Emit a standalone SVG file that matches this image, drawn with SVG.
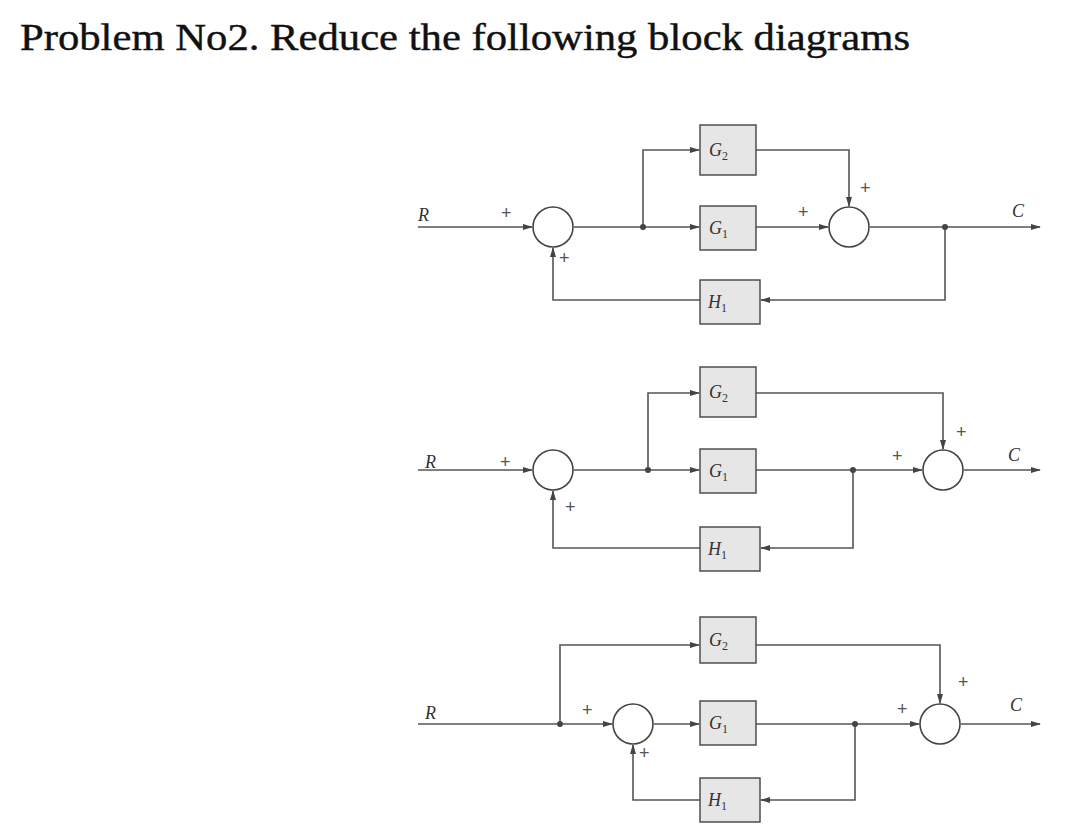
<svg xmlns="http://www.w3.org/2000/svg" width="1086" height="836" viewBox="0 0 1086 836">
<defs>
<marker id="a" markerWidth="10" markerHeight="8" refX="9" refY="4" orient="auto" markerUnits="userSpaceOnUse"><path d="M0,1 L10,4 L0,7 Z" fill="#444"/></marker>
</defs>
<style>
.w{fill:none;stroke:#555;stroke-width:1.6}
.b{fill:#e6e6e6;stroke:#444;stroke-width:1.4}
.s{fill:#fff;stroke:#444;stroke-width:1.6}
.l{font-family:"Liberation Serif",serif;font-style:italic;font-size:18px;fill:#333}
.l tspan{font-style:normal;font-size:12px}
.p{font-family:"Liberation Sans",sans-serif;font-size:18px;fill:#555}
.d{fill:#444}
</style>
<rect width="1086" height="836" fill="#fff"/>
<text x="20" y="50" font-family="Liberation Serif,serif" font-size="37" fill="#111" textLength="890" lengthAdjust="spacingAndGlyphs" stroke="#111" stroke-width="0.4">Problem No2.  Reduce the following block diagrams</text>

<g id="connectors">
<path class="w" d="M418,227 H532" marker-end="url(#a)"/>
<path class="w" d="M574,227 H699" marker-end="url(#a)"/>
<path class="w" d="M643,227 V150 H699" marker-end="url(#a)"/>
<path class="w" d="M756,150 H849 V206" marker-end="url(#a)"/>
<path class="w" d="M756,227 H828" marker-end="url(#a)"/>
<path class="w" d="M870,227 H1040" marker-end="url(#a)"/>
<path class="w" d="M945,227 V300 H761" marker-end="url(#a)"/>
<path class="w" d="M700,300 H553 V248" marker-end="url(#a)"/>
<circle class="d" cx="643" cy="227" r="3"/><circle class="d" cx="945" cy="227" r="3"/>
<path class="w" d="M418,470 H532" marker-end="url(#a)"/>
<path class="w" d="M574,470 H699" marker-end="url(#a)"/>
<path class="w" d="M648,470 V393 H699" marker-end="url(#a)"/>
<path class="w" d="M756,393 H943 V449" marker-end="url(#a)"/>
<path class="w" d="M756,470 H922" marker-end="url(#a)"/>
<path class="w" d="M964,470 H1040" marker-end="url(#a)"/>
<path class="w" d="M853,470 V548 H761" marker-end="url(#a)"/>
<path class="w" d="M700,548 H553 V491" marker-end="url(#a)"/>
<circle class="d" cx="648" cy="470" r="3"/><circle class="d" cx="853" cy="470" r="3"/>
<path class="w" d="M418,724 H612" marker-end="url(#a)"/>
<path class="w" d="M560,724 V645 H699" marker-end="url(#a)"/>
<path class="w" d="M654,724 H699" marker-end="url(#a)"/>
<path class="w" d="M756,645 H940 V703" marker-end="url(#a)"/>
<path class="w" d="M756,724 H919" marker-end="url(#a)"/>
<path class="w" d="M961,724 H1040" marker-end="url(#a)"/>
<path class="w" d="M855,724 V800 H761" marker-end="url(#a)"/>
<path class="w" d="M700,800 H633 V745" marker-end="url(#a)"/>
<circle class="d" cx="560" cy="724" r="3"/><circle class="d" cx="855" cy="724" r="3"/>
</g>

<g id="d1">
<g id="d1-s1"><circle class="s" cx="553" cy="227" r="20"/><text class="p" x="501" y="219">+</text><text class="p" x="559" y="264">+</text></g>
<g id="d1-G2"><rect class="b" x="700" y="125" width="56" height="50"/><text class="l" x="709" y="156">G<tspan dy="4">2</tspan></text></g>
<g id="d1-G1"><rect class="b" x="700" y="206" width="56" height="44"/><text class="l" x="709" y="234">G<tspan dy="4">1</tspan></text></g>
<g id="d1-H1"><rect class="b" x="700" y="280" width="60" height="44"/><text class="l" x="708" y="308">H<tspan dy="4">1</tspan></text></g>
<g id="d1-s2"><circle class="s" cx="849" cy="227" r="20"/><text class="p" x="798" y="218">+</text><text class="p" x="860" y="194">+</text></g>
<text class="l" x="418" y="221">R</text><text class="l" x="1012" y="217">C</text>
</g>

<g id="d2">
<g id="d2-s1"><circle class="s" cx="553" cy="470" r="20"/><text class="p" x="500" y="468">+</text><text class="p" x="565" y="513">+</text></g>
<g id="d2-G2"><rect class="b" x="700" y="367" width="56" height="50"/><text class="l" x="709" y="398">G<tspan dy="4">2</tspan></text></g>
<g id="d2-G1"><rect class="b" x="700" y="449" width="56" height="44"/><text class="l" x="709" y="477">G<tspan dy="4">1</tspan></text></g>
<g id="d2-H1"><rect class="b" x="700" y="527" width="60" height="44"/><text class="l" x="708" y="555">H<tspan dy="4">1</tspan></text></g>
<g id="d2-s2"><circle class="s" cx="943" cy="470" r="20"/><text class="p" x="892" y="462">+</text><text class="p" x="956" y="438">+</text></g>
<text class="l" x="425" y="468">R</text><text class="l" x="1008" y="461">C</text>
</g>

<g id="d3">
<g id="d3-s1"><circle class="s" cx="633" cy="724" r="20"/><text class="p" x="582" y="716">+</text><text class="p" x="639" y="759">+</text></g>
<g id="d3-G2"><rect class="b" x="700" y="617" width="56" height="46"/><text class="l" x="709" y="646">G<tspan dy="4">2</tspan></text></g>
<g id="d3-G1"><rect class="b" x="700" y="701" width="56" height="44"/><text class="l" x="709" y="729">G<tspan dy="4">1</tspan></text></g>
<g id="d3-H1"><rect class="b" x="700" y="778" width="60" height="44"/><text class="l" x="708" y="806">H<tspan dy="4">1</tspan></text></g>
<g id="d3-s2"><circle class="s" cx="940" cy="724" r="20"/><text class="p" x="897" y="715">+</text><text class="p" x="958" y="688">+</text></g>
<text class="l" x="425" y="719">R</text><text class="l" x="1010" y="711">C</text>
</g>
</svg>
